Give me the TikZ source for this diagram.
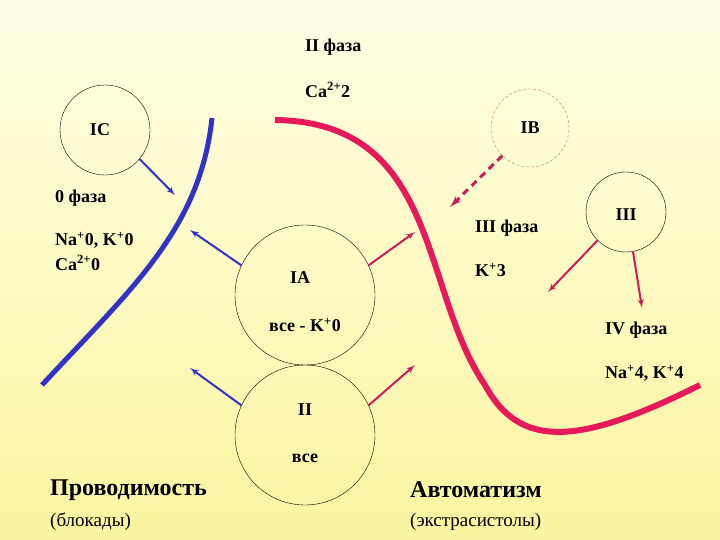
\documentclass[tikz,border=0pt]{standalone}
\usepackage{fontspec}
\setmainfont{Liberation Serif}
\usetikzlibrary{arrows}
\definecolor{bgtop}{RGB}{255,255,230}
\definecolor{bgbot}{RGB}{250,245,160}
\definecolor{crim}{RGB}{232,25,90}
\definecolor{darr}{RGB}{200,30,90}
\definecolor{bcurve}{RGB}{50,50,200}
\newcommand{\ionsup}[1]{\textsuperscript{#1}}
\tikzstyle{lbl} = [anchor=west, font=\bfseries\fontsize{18}{20}\selectfont, inner sep=0pt]
\tikzstyle{big} = [anchor=west, font=\bfseries\fontsize{24}{26}\selectfont, inner sep=0pt]
\tikzstyle{sub} = [anchor=west, font=\fontsize{19}{21}\selectfont, inner sep=0pt]
\tikzstyle{ring} = [draw, circle, thin, font=\bfseries\fontsize{18}{20}\selectfont]
\tikzstyle{barrow} = [draw=bcurve, line width=2pt, -latex']
\tikzstyle{rarrow} = [draw=darr, line width=2pt, -latex']
\begin{document}
\begin{tikzpicture}[x=1pt, y=-1pt]
\shade[top color=bgtop, bottom color=bgbot] (0,0) rectangle (720,540);
\useasboundingbox (0,0) rectangle (720,540);

% curves
\draw[bcurve, line width=5pt] (42,385) .. controls (130,290) and (200,230) .. (212,118);
\draw[crim, line width=6pt] (275,120) .. controls (440,122) and (420,290) .. (485,385)
  .. controls (520,450) and (580,445) .. (700,385);

% circles
\node[ring, minimum size=90pt] (ic) at (105,130) {};
\node[lbl, anchor=center] at (100,130) {IC};
\node[ring, densely dashed, draw=brown, minimum size=78pt] (ib) at (530,128) {};
\node[lbl, anchor=center] at (530,128) {IB};
\node[ring, minimum size=80pt] (iii) at (626,212) {};
\node[lbl, anchor=center] at (626,215) {III};
\node[ring, minimum size=140pt] (ia) at (305,295) {};
\node[lbl, anchor=center] at (300,278) {IA};
\node[lbl, anchor=center] at (305,325) {все - K\ionsup{+}0};
\node[ring, minimum size=140pt] (ii) at (305,435) {};
\node[lbl, anchor=center] at (305,410) {II};
\node[lbl, anchor=center] at (305,458) {все};

% labels
\node[lbl] (f2) at (305,47) {II фаза};
\node[lbl] (ca2) at (305,90) {Ca\ionsup{2+}2};
\node[lbl] (f0) at (55,198) {0 фаза};
\node[lbl] (na0) at (55,240) {Na\ionsup{+}0, K\ionsup{+}0};
\node[lbl] (ca0) at (55,263) {Ca\ionsup{2+}0};
\node[lbl] (f3) at (475,228) {III фаза};
\node[lbl] (k3) at (475,270) {K\ionsup{+}3};
\node[lbl] (f4) at (605,330) {IV фаза};
\node[lbl] (na4) at (605,373) {Na\ionsup{+}4, K\ionsup{+}4};
\node[big] (cond) at (50,490) {Проводимость};
\node[sub] (blk) at (50,522) {(блокады)};
\node[big] (auto) at (410,490) {Автоматизм};
\node[sub] (ext) at (410,522) {(экстрасистолы)};

% arrows
\coordinate (a1) at (175,195);
\coordinate (a2) at (190,230);
\coordinate (a3) at (190,368);
\coordinate (a4) at (415,232);
\coordinate (a5) at (415,365);
\coordinate (a6) at (450,207);
\coordinate (a7) at (548,292);
\coordinate (a8) at (642,308);
\path [barrow] (ic.-40) to (a1);
\path [barrow] (ia.155) to (a2);
\path [barrow] (ii.155) to (a3);
\path [rarrow] (ia.25) to (a4);
\path [rarrow] (ii.25) to (a5);
\path [rarrow, line width=3pt, dash pattern=on 7pt off 5pt] (ib.-135) to (a6);
\path [rarrow] (iii.-135) to (a7);
\path [rarrow] (iii.-80) to (a8);
\end{tikzpicture}
\end{document}
